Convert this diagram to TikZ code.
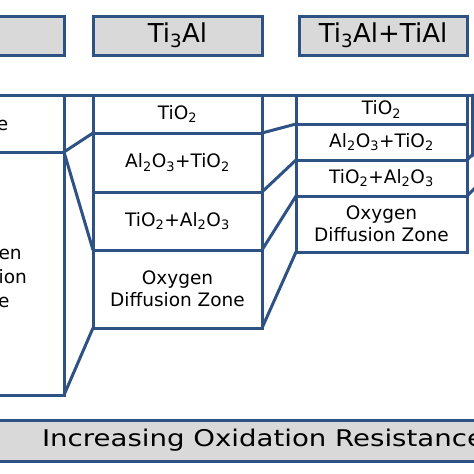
\documentclass[tikz,border=0pt]{standalone}
\usepackage{fontspec}
\setmainfont{DejaVu Sans}
\definecolor{edge}{RGB}{47,82,132}
\definecolor{boxgray}{RGB}{217,217,217}
\begin{document}
\begin{tikzpicture}[x=1pt,y=-1pt,
  cell/.style={draw=edge, line width=3pt, inner sep=0pt, outer sep=0pt, anchor=north west, align=center, font=\fontsize{18.5}{22}\selectfont},
  hdr/.style={draw=edge, fill=boxgray, line width=3pt, inner sep=0pt, outer sep=0pt, anchor=north west, font=\fontsize{26}{30}\selectfont},
  link/.style={draw=edge, line width=3pt, line cap=round}]
\useasboundingbox (0,0) rectangle (474,474);
\clip (0,0) rectangle (474,474);
% headers
\node[hdr, minimum width=164, minimum height=39] (h1) at (-100,16) {};
\node[hdr, minimum width=169, minimum height=39] (h2) at (93,16) {Ti\textsubscript{3}Al};
\node[hdr, minimum width=168, minimum height=39] (h3) at (299,16) {Ti\textsubscript{3}Al+TiAl};
% column 1
\node[cell, minimum width=164, minimum height=57] (c1a) at (-100,95) {Rutile};
\node[cell, minimum width=164, minimum height=243] (c1b) at (-100,152) {};
\node[font=\fontsize{18.5}{24}\selectfont, align=center, inner sep=0pt] (t1b) at (-14,277) {Oxygen\\Diffusion\\Zone};
% column 2
\node[cell, minimum width=169, minimum height=38] (c2a) at (93,95) {TiO\textsubscript{2}};
\node[cell, minimum width=169, minimum height=59] (c2b) at (93,133) {Al\textsubscript{2}O\textsubscript{3}+TiO\textsubscript{2}};
\node[cell, minimum width=169, minimum height=58] (c2c) at (93,192) {TiO\textsubscript{2}+Al\textsubscript{2}O\textsubscript{3}};
\node[cell, minimum width=169, minimum height=78] (c2d) at (93,250) {Oxygen\\Diffusion Zone};
% column 3
\node[cell, minimum width=171, minimum height=29] (c3a) at (296,95) {TiO\textsubscript{2}};
\node[cell, minimum width=171, minimum height=36] (c3b) at (296,124) {Al\textsubscript{2}O\textsubscript{3}+TiO\textsubscript{2}};
\node[cell, minimum width=171, minimum height=36] (c3c) at (296,160) {TiO\textsubscript{2}+Al\textsubscript{2}O\textsubscript{3}};
\node[cell, minimum width=171, minimum height=56] (c3d) at (296,196) {Oxygen\\Diffusion Zone};
% connectors col1 -> col2
\draw[link] (c1a.north east) -- (c2a.north west);
\draw[link] (c1a.south east) -- (c2a.south west);
\draw[link] (c1a.south east) -- (c2c.south west);
\draw[link] (c1b.south east) -- (c2d.south west);
% connectors col2 -> col3
\draw[link] (c2a.north east) -- (c3a.north west);
\draw[link] (c2a.south east) -- (c3a.south west);
\draw[link] (c2b.south east) -- (c3b.south west);
\draw[link] (c2c.south east) -- (c3c.south west);
\draw[link] (c2d.south east) -- (c3d.south west);
% right edge
\coordinate (r0) at (484,95);
\coordinate (v1) at (472,95);
\coordinate (v2) at (472,156);
\coordinate (r1) at (482,145);
\coordinate (r2) at (482,181);
\draw[link] (c3a.north east) -- (r0);
\draw[link] (v1) -- (v2);
\draw[link] (c3b.south east) -- (r1);
\draw[link] (c3c.south east) -- (r2);
% bottom bar
\node[hdr, minimum width=540, minimum height=41, font=\fontsize{23}{27}\selectfont] (bar) at (-7,420) {\scalebox{1.2}[1]{Increasing Oxidation Resistance}};
\end{tikzpicture}
\end{document}
